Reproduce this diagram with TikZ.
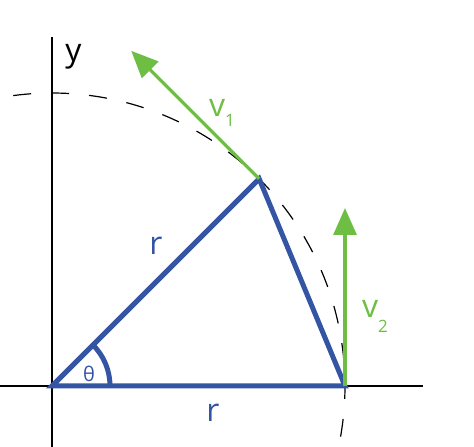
\documentclass[tikz,border=0pt]{standalone}
\usepackage{fontspec}
\setmainfont{Open Sans}
\usetikzlibrary{arrows.meta,calc}
\definecolor{triblue}{RGB}{52,84,164}
\definecolor{vgreen}{RGB}{110,190,68}
\tikzset{
  axisline/.style={line width=1.2pt, black},
  circdash/.style={line width=1.2pt, black, dash pattern=on 18pt off 20pt},
  tri/.style={line width=5pt, triblue, line join=miter},
  vel/.style={line width=3.2pt, vgreen, -{Triangle[length=27pt,width=23pt]}},
  lbl/.style={inner sep=0pt, anchor=base, font=\fontsize{32}{32}\selectfont},
}
\begin{document}
\begin{tikzpicture}[x=1pt,y=1pt]
\useasboundingbox (-52,-61) rectangle (422,386);
% axes
\coordinate (xl) at (-52,0);
\coordinate (xr) at (371,0);
\coordinate (yb) at (0,-61);
\coordinate (yt) at (0,349);
\draw[axisline] (xl) -- (xr);
\draw[axisline] (yb) -- (yt);
% dashed circle
\draw[circdash] (97.6:293) arc[start angle=97.6, end angle=-12.5, radius=293];
% triangle
\coordinate (O) at (0,0);
\coordinate (A) at (45:293);
\coordinate (B) at (293,0);
\draw[tri] (O) -- (A) -- (B) -- cycle;
\draw[tri] (58,0) arc[start angle=0, end angle=45, radius=58];
% velocity arrows
\coordinate (V1) at ($(A)+(135:181)$);
\coordinate (V2) at (293,178);
\draw[vel] (A) -- (V1);
\draw[vel] (B) -- (V2);
% labels
\node[lbl] (ylab) at (21.5,324) {y};
\node[lbl, anchor=base west, text=vgreen] (v1) at (157,269) {v\raisebox{-10pt}{\fontsize{17}{17}\selectfont 1}};
\node[lbl, anchor=base west, text=vgreen] (v2) at (310,68) {v\raisebox{-15pt}{\fontsize{17}{17}\selectfont 2}};
\node[lbl, text=triblue] (r1) at (104,131) {r};
\node[lbl, text=triblue] (r2) at (161,-36) {r};
\node[lbl, text=triblue, font=\fontsize{20}{20}\selectfont] (th) at (37,4) {θ};
\end{tikzpicture}
\end{document}
